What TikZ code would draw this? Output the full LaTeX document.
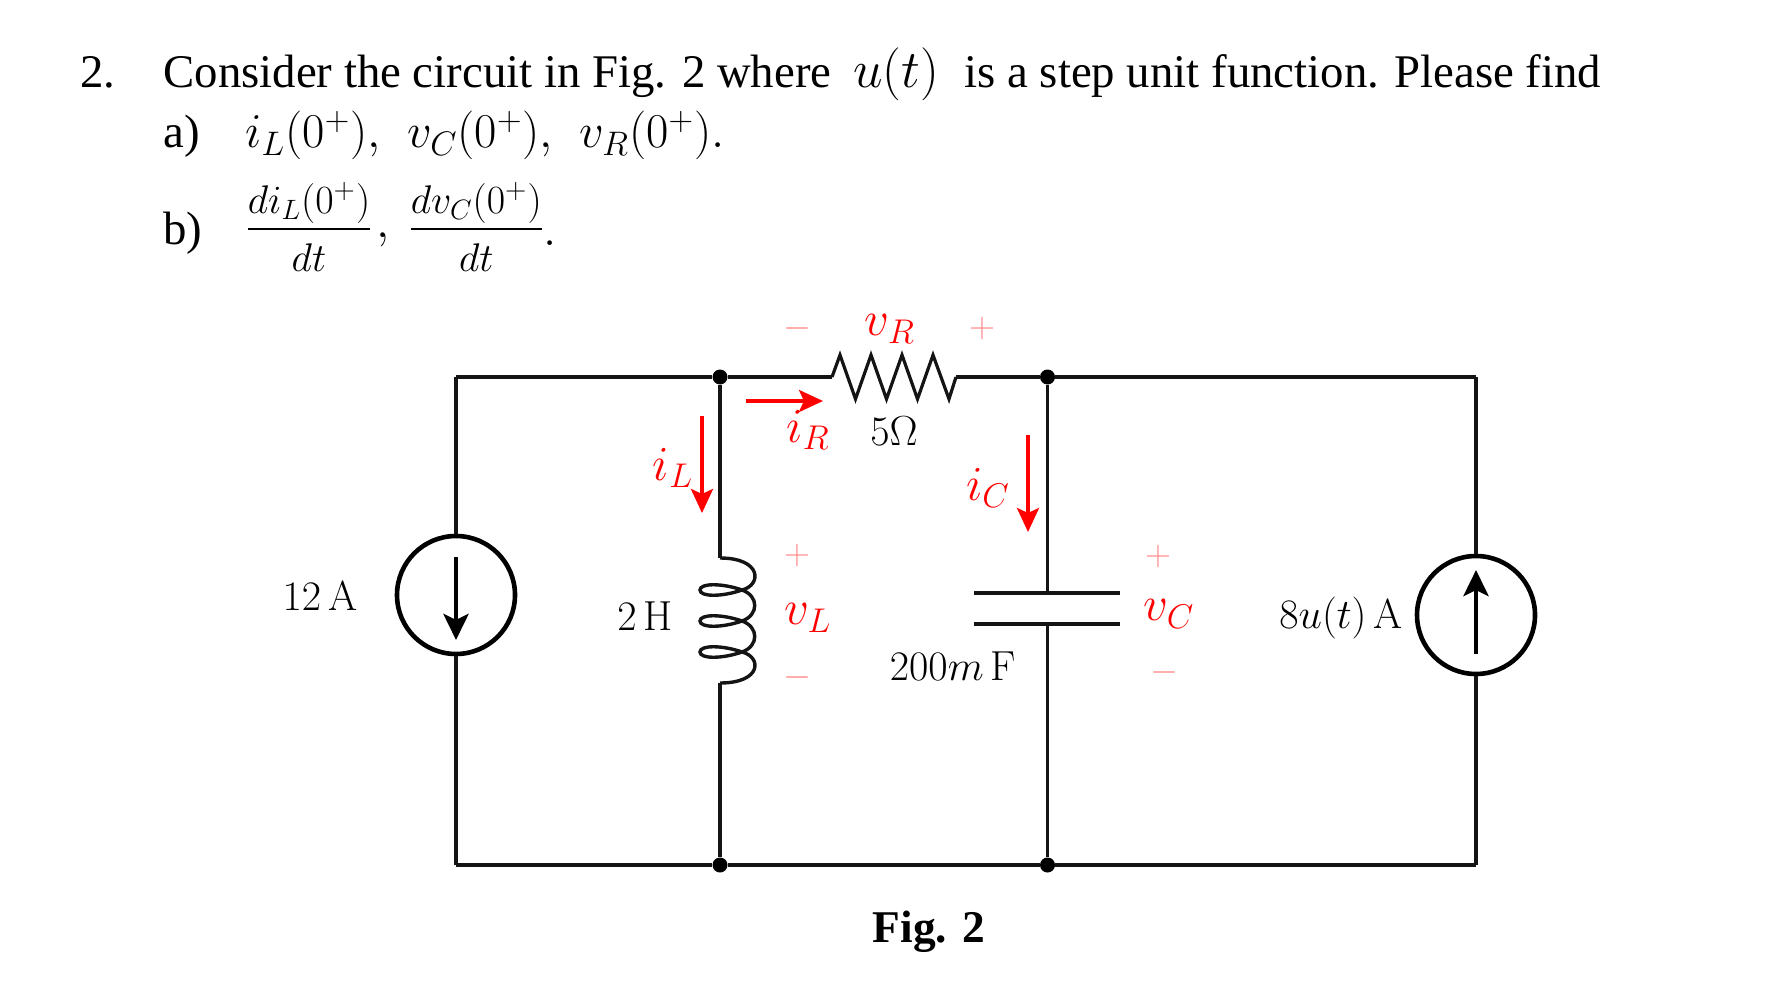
\documentclass[tikz,border=0pt]{standalone}
\usepackage{fix-cm}
\usepackage{amsmath}
\usepackage{fontspec}
\usepackage{tikz}
\usetikzlibrary{arrows.meta}
\newfontfamily\timesfont{Liberation Serif}
\definecolor{lightred}{RGB}{255, 140, 140}
\tikzset{
  head/.style={anchor=base west, inner sep=0pt, font=\timesfont\fontsize{23.4}{28}\selectfont},
  headmath/.style={anchor=base west, inner sep=0pt, font=\fontsize{24.3}{29}\selectfont},
  fracmath/.style={anchor=base west, inner sep=0pt, font=\fontsize{20}{24}\selectfont},
  figcap/.style={inner sep=0pt, font=\timesfont\bfseries\fontsize{22.7}{27}\selectfont},
  val/.style={inner sep=0pt, font=\fontsize{21}{25}\selectfont},
  cur/.style={inner sep=0pt, text=red, font=\fontsize{24.5}{29}\selectfont},
  sgn/.style={inner sep=0pt, text=lightred, font=\fontsize{18}{22}\selectfont},
  wire/.style={line width=1.9pt, black!92},
  dot/.style={circle, fill=black, inner sep=0pt, minimum size=7.5pt},
  src/.style={circle, draw, line width=2.3pt, inner sep=0pt, minimum size=59pt},
  srcarrow/.style={line width=2.4pt, -{Stealth[length=13pt,width=12.5pt,inset=3pt]}},
  curarrow/.style={line width=1.9pt, red, -{Stealth[length=12pt,width=11pt,inset=2.5pt]}}
}

\begin{document}
\begin{tikzpicture}[x=0.5pt, y=-0.5pt]
   \useasboundingbox (0,0) rectangle (1765,1000);

   %question text
   \draw[]
    (80,88) node[head](num) {2.}
    (163,88) node[head](line1a) {Consider the circuit in Fig. 2 where}
    (853,88) node[headmath,font=\fontsize{26.5}{31}\selectfont](ut) {$u(t)$}
    (964,88) node[head](line1b) {is a step unit function. Please find}
    (163,148) node[head](parta) {a)}
    (245,148) node[headmath](iL0) {$i_L(0^+),$}
    (407,148) node[headmath](vC0) {$v_C(0^+),$}
    (579,148) node[headmath](vR0) {$v_R(0^+).$}
    (163,244) node[head](partb) {b)}
    (245,239) node[fracmath](fracL) {$\dfrac{\raisebox{-2pt}{$di_L(0^+)$}}{dt\rule{0pt}{18.5pt}}$}
    (408,239) node[fracmath](fracC) {$\dfrac{\raisebox{-2pt}{$dv_C(0^+)$}}{dt\rule{0pt}{18.5pt}}$}
    (376,238) node[headmath](commaL) {$,$}
    (543,246) node[headmath](stopC) {$.$};

   %corners and contact points
   \draw[]
    (456,377) coordinate(tl)
    (1476,377) coordinate(tr)
    (456,865) coordinate(bl)
    (1476,865) coordinate(br)
    (832,377) coordinate(resL)
    (956,377) coordinate(resR)
    (720,558) coordinate(coilT)
    (720,683) coordinate(coilB)
    (1047.5,593) coordinate(capT)
    (1047.5,624) coordinate(capB)
    (974,593) coordinate(capTL)
    (1120,593) coordinate(capTR)
    (974,624) coordinate(capBL)
    (1120,624) coordinate(capBR);

   \draw[]
    (720,377) node[dot](j1) {}
    (1047.5,377) node[dot](j2) {}
    (720,865) node[dot](j3) {}
    (1047.5,865) node[dot](j4) {}
    (456,595) node[src](srcL) {}
    (1476,615) node[src](srcR) {};

   %wires
   \draw[wire]
    (tl) -- (j1) (j1) -- (resL)
    (resR) -- (j2) (j2) -- (tr)
    (bl) -- (j3) (j3) -- (j4) (j4) -- (br)
    (tl) -- (srcL) (srcL) -- (bl)
    (tr) -- (srcR) (srcR) -- (br)
    (j1) -- (coilT) (coilB) -- (j3)
    (j2) -- (capT) (capB) -- (j4);
   \draw[wire, line width=2pt] (capTL) -- (capTR);
   \draw[wire, line width=2pt] (capBL) -- (capBR);

   %resistor
   \draw[wire, line width=1.6pt] (resL) -- (840,355)
    \foreach \up in {871,902,933} {-- (\up-15.5,399) -- (\up,355)}
    -- (949,399) -- (resR);

   %inductor
   \draw[wire, line width=1.7pt] (coilT) .. controls (762,558) and (762,585) .. (742,590);
   \foreach \ly in {590,621,652}
     \draw[wire, line width=1.7pt] (742,\ly) .. controls (722,\ly-7) and (700,\ly-7) .. (700,\ly)
       .. controls (700,\ly+7) and (722,\ly+7) .. (742,\ly);
   \foreach \ly in {590,621}
     \draw[wire, line width=1.7pt] (742,\ly) .. controls (759,\ly+6) and (759,\ly+25) .. (742,\ly+31);
   \draw[wire, line width=1.7pt] (742,652) .. controls (762,657) and (762,683) .. (coilB);

   %source arrows
   \draw[]
    (456,557) coordinate(srcLa)
    (456,640) coordinate(srcLb)
    (1476,654) coordinate(srcRa)
    (1476,570) coordinate(srcRb);
   \draw[srcarrow] (srcLa) -- (srcLb);
   \draw[srcarrow] (srcRa) -- (srcRb);

   %currents
   \draw[]
    (746,401) coordinate(iRa)
    (823,401) coordinate(iRb)
    (702,416) coordinate(iLa)
    (702,513) coordinate(iLb)
    (1028,435) coordinate(iCa)
    (1028,532) coordinate(iCb);
   \draw[curarrow] (iRa) -- (iRb);
   \draw[curarrow] (iLa) -- (iLb);
   \draw[curarrow] (iCa) -- (iCb);

   %labels
   \draw[]
    (890,329) node[cur](vR) {$v_R$}
    (808,430) node[cur](iR) {$i_R$}
    (673,468) node[cur](iL) {$i_L$}
    (988,488) node[cur](iC) {$i_C$}
    (808,618) node[cur](vL) {$v_L$}
    (1169,614) node[cur](vC) {$v_C$}
    (797,328) node[sgn](mR) {$-$}
    (982,328) node[sgn](pR) {$+$}
    (797,555) node[sgn](pL) {$+$}
    (797,677) node[sgn](mL) {$-$}
    (1158,556) node[sgn](pC) {$+$}
    (1164,672) node[sgn](mC) {$-$}
    (894,431) node[val](R) {$5\Omega$}
    (645,616) node[val](L) {$2\,\mathrm{H}$}
    (953,666) node[val](C) {$200m\,\mathrm{F}$}
    (320,596) node[val](I1) {$12\,\mathrm{A}$}
    (1341,618) node[val](I2) {$8u(t)\,\mathrm{A}$}
    (929,932) node[figcap](fig) {Fig. 2};
\end{tikzpicture}
\end{document}
